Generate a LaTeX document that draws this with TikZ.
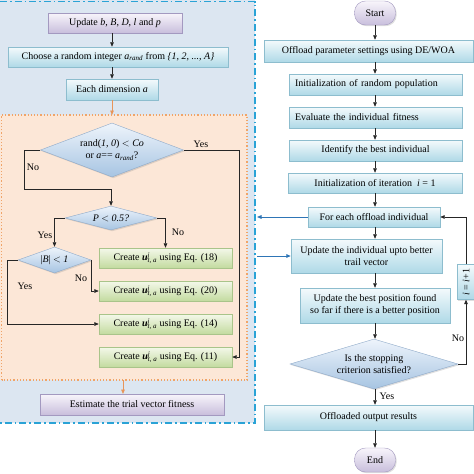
\documentclass[tikz,border=0pt]{standalone}
\usepackage{fontspec}
\setmainfont{Liberation Serif}
\usetikzlibrary{arrows.meta,shapes.geometric,shadows,calc}
\definecolor{bluetop}{HTML}{F4FAFC}
\definecolor{bluebot}{HTML}{AFD9E7}
\definecolor{bluedraw}{HTML}{8DBDCE}
\definecolor{greentop}{HTML}{F4F8EA}
\definecolor{greenbot}{HTML}{C3DB9F}
\definecolor{greendraw}{HTML}{A9C48A}
\definecolor{purtop}{HTML}{F8F5FB}
\definecolor{purbot}{HTML}{C8BEDC}
\definecolor{purdraw}{HTML}{A399C0}
\definecolor{diatop}{HTML}{EEF4FB}
\definecolor{diabot}{HTML}{A6C4E2}
\definecolor{diadraw}{HTML}{8EA9C8}
\definecolor{panelbg}{HTML}{DCE6F1}
\definecolor{panelline}{HTML}{2AA3D6}
\definecolor{peach}{HTML}{FCE7D7}
\definecolor{orline}{HTML}{F0A468}
\definecolor{arrblue}{HTML}{2E75B6}
\definecolor{arrorange}{HTML}{E8955A}
\newcommand\uja{\textbf{\textit{u}}\rlap{\textsuperscript{\textit{j}}}\textsubscript{\textit{t, a}}}
\begin{document}
\begin{tikzpicture}[x=1pt,y=-1pt,font=\fontsize{10}{12}\selectfont,
  base/.style={draw=#1,line width=0.4pt,inner sep=2pt,align=center,
    drop shadow={opacity=0.25,shadow xshift=1.2pt,shadow yshift=-1.2pt}},
  bluebox/.style={base=bluedraw,top color=bluetop,bottom color=bluebot},
  greenbox/.style={base=greendraw,top color=greentop,bottom color=greenbot,minimum width=133pt,minimum height=20pt},
  purbox/.style={base=purdraw,top color=purtop,bottom color=purbot},
  termbox/.style={purbox,rounded corners=11pt,minimum width=41pt,minimum height=24pt},
  decision/.style={diamond,base=diadraw,top color=diatop,bottom color=diabot,inner sep=0pt},
  arr/.style={-{Triangle[length=4.5pt,width=3.6pt]},line width=0.7pt,draw=black!85},
  bluearr/.style={arr,draw=arrblue,line width=1pt},
  orarr/.style={arr,draw=arrorange,line width=0.9pt},
  lbl/.style={inner sep=1pt}]
\useasboundingbox (0,0) rectangle (474,474);
% left panel
\fill[panelbg] (0,0) rectangle (255,423);
\draw[panelline,line width=1.6pt,dash pattern=on 7pt off 3pt on 1.6pt off 3pt] (0,1.5) -- (255,1.5) -- (255,423) -- (0,423);
\fill[peach] (0,115) rectangle (247,380);
\draw[orline,line width=1.2pt,dotted] (1.5,380) -- (1.5,115) -- (247,115) -- (247,380) -- cycle;
% left nodes
\node[purbox,minimum width=134pt,minimum height=20pt] (upd) at (115,23) {Update \textit{b}, \textit{B}, \textit{D}, \textit{l} and \textit{p}};
\node[bluebox,minimum width=220pt,minimum height=20pt] (choose) at (118,57) {Choose a random integer \textit{a}\textsubscript{\textit{rand}} from \textit{\{1, 2, ..., A\}}};
\node[bluebox,minimum width=92pt,minimum height=21pt] (eachdim) at (112,89.5) {Each dimension \textit{a}};
\node[decision,aspect=2.65,minimum width=143pt,minimum height=54pt] (d1) at (112,150) {rand(\textit{1, 0}) {$<$} \textit{Co}\\ or \textit{a}== \textit{a}\textsubscript{\textit{rand}}?};
\node[decision,aspect=3.8,minimum width=92pt,minimum height=24pt] (d2) at (111,218) {\textit{P} {$<$} \textit{0.5?}};
\node[decision,aspect=2.8,minimum width=73pt,minimum height=26pt] (d3) at (54.5,260) {|\textit{B}| {$<$} \textit{1}};
\node[greenbox] (e18) at (165.5,258) {Create \uja{} using Eq. (18)};
\node[greenbox] (e20) at (165.5,291) {Create \uja{} using Eq. (20)};
\node[greenbox] (e14) at (165.5,324) {Create \uja{} using Eq. (14)};
\node[greenbox] (e11) at (165.5,357) {Create \uja{} using Eq. (11)};
\node[purbox,minimum width=184pt,minimum height=21pt] (est) at (132,404.5) {Estimate the trial vector fitness};
\coordinate (obtop) at (112,115);
\coordinate (obbot) at (123,380);
\coordinate (estin) at (123,394);
\coordinate (yr) at (239,150);
\coordinate (nl) at (24,189);
\coordinate (yl) at (7,260);
% left connectors
\draw[arr] (upd.south -| eachdim) -- (choose.north -| eachdim);
\draw[arr] (choose.south -| eachdim) -- (eachdim.north);
\draw[orarr] (eachdim.south) -- (obtop);
\draw[orarr] (obbot) -- (estin);
\draw[arr] (d1.east) -- (yr) |- (e11.east);
\draw[arr] (d1.west) -| (nl) -| (d2.north);
\draw[arr] (d2.west) -| (d3.north);
\draw[arr] (d2.east) -| (e18.north);
\draw[arr] (d3.east) |- (e20.west);
\draw[arr] (d3.west) -- (yl) |- (e14.west);
\node[lbl] at (201,144) {Yes};
\node[lbl] at (33,167) {No};
\node[lbl] at (45,235) {Yes};
\node[lbl] at (178,232) {No};
\node[lbl] at (81,278) {No};
\node[lbl] at (25,286) {Yes};
% right column
\node[termbox] (start) at (375,13) {Start};
\node[bluebox,minimum width=209pt,minimum height=22pt] (offload) at (368.5,51) {Offload parameter settings using DE/WOA};
\node[bluebox,minimum height=21pt,inner xsep=6pt,text width=161pt,align=left] (initpop) at (375.5,84.5) {Initialization of random population};
\node[bluebox,minimum height=21pt,inner xsep=6pt,text width=161pt,align=left] (evalfit) at (375.5,117.5) {Evaluate the individual fitness};
\node[bluebox,minimum width=173pt,minimum height=21pt] (identify) at (375.5,150.5) {Identify the best individual};
\node[bluebox,minimum width=174pt,minimum height=20pt] (inititer) at (375,183) {Initialization of iteration\enspace \textit{i} = 1};
\node[bluebox,minimum width=132pt,minimum height=20pt] (foreach) at (374,217) {For each offload individual};
\node[bluebox,minimum width=151pt,minimum height=34pt] (updind) at (366.5,256) {Update the individual upto better\\ trail vector};
\node[bluebox,minimum width=150pt,minimum height=35pt] (updbest) at (375,305.5) {Update the best position found\\ so far if there is a better position};
\node[decision,aspect=3.36,minimum width=168pt,minimum height=50pt] (stop) at (374,364) {Is the stopping\\ criterion satisfied?};
\node[bluebox,minimum width=209pt,minimum height=25pt] (output) at (368.5,417.5) {Offloaded output results};
\node[termbox] (end) at (375,460) {End};
\node[bluebox,rotate=90,minimum width=35pt,minimum height=18pt,inner sep=1pt] (inc) at (466,282) {\textit{i} = \textit{i}+1};
\coordinate (cx) at (375,0);
\coordinate (pl) at (257,0);
% right connectors
\draw[arr] (start.south) -- (offload.north -| cx);
\draw[arr] (offload.south -| cx) -- (initpop.north -| cx);
\draw[arr] (initpop.south -| cx) -- (evalfit.north -| cx);
\draw[arr] (evalfit.south -| cx) -- (identify.north -| cx);
\draw[arr] (identify.south -| cx) -- (inititer.north -| cx);
\draw[arr] (inititer.south -| cx) -- (foreach.north -| cx);
\draw[arr] (foreach.south -| cx) -- (updind.north -| cx);
\draw[arr] (updind.south -| cx) -- (updbest.north -| cx);
\draw[arr] (updbest.south -| cx) -- (stop.north -| cx);
\draw[arr] (stop.south -| cx) -- (output.north -| cx);
\draw[arr] (output.south -| cx) -- (end.north);
\draw[arr] (stop.east) -| (inc.west);
\draw[arr] (inc.east) |- (foreach.east);
\draw[bluearr] (foreach.west) -- (foreach.west -| pl);
\draw[bluearr] (updind.west -| pl) -- (updind.west);
\node[lbl] at (387,396) {Yes};
\node[lbl] at (458,338) {No};
\end{tikzpicture}
\end{document}
